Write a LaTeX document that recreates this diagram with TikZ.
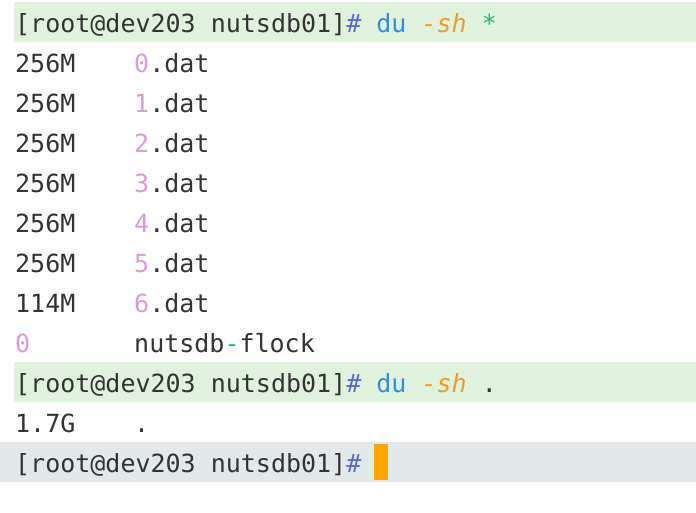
\documentclass[tikz,border=0pt]{standalone}
\usepackage{fontspec}
\setmonofont{DejaVu Sans Mono}
\usepackage{xcolor}
\definecolor{bandg}{HTML}{DFF3DC}
\definecolor{bandb}{HTML}{E3E8EA}
\definecolor{txt}{HTML}{333333}
\definecolor{hash}{HTML}{5A6ACF}
\definecolor{cmd}{HTML}{2E8FE8}
\definecolor{opt}{HTML}{F09A2A}
\definecolor{star}{HTML}{2FB37A}
\definecolor{num}{HTML}{D99CD8}
\definecolor{dash}{HTML}{2FB37A}
\definecolor{cur}{HTML}{FFA500}
\begin{document}
\begin{tikzpicture}[x=1pt,y=-1pt,
  tl/.style={anchor=base west,inner sep=0pt,font=\ttfamily\fontsize{25}{25}\selectfont,text=txt}]
\useasboundingbox (0,0) rectangle (696,512);
\fill[white] (0,0) rectangle (696,512);
\fill[bandg] (14,2) rectangle (696,42);
\fill[bandg] (14,362) rectangle (696,402);
\fill[bandb] (0,442) rectangle (696,482);
\newcommand{\prm}{[root@dev203 nutsdb01]\textcolor{hash}{\#}}
\node[tl] (l0) at (15,32) {\prm\ \textcolor{cmd}{du} \textcolor{opt}{\itshape -sh} \textcolor{star}{*}};
\foreach \i/\s/\f in {1/256M/0,2/256M/1,3/256M/2,4/256M/3,5/256M/4,6/256M/5,7/114M/6}{
  \node[tl] (s\i) at (15,32+40*\i) {\s};
  \node[tl] (f\i) at (134,32+40*\i) {\textcolor{num}{\f}.dat};
}
\node[tl] (s8) at (15,352) {\textcolor{num}{0}};
\node[tl] (f8) at (134,352) {nutsdb\textcolor{dash}{-}flock};
\node[tl] (l9) at (15,392) {\prm\ \textcolor{cmd}{du} \textcolor{opt}{\itshape -sh} .};
\node[tl] (s10) at (15,432) {1.7G};
\node[tl] (f10) at (134,432) {.};
\node[tl] (l11) at (15,472) {\prm};
\fill[cur] (374,444) rectangle (388,480);
\end{tikzpicture}
\end{document}
